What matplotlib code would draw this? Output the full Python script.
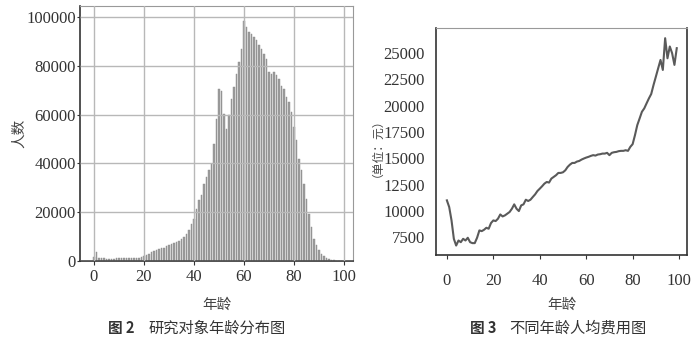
import numpy as np
import matplotlib.pyplot as plt

plt.rcParams['font.family'] = ['Noto Sans CJK SC', 'DejaVu Sans']

# figure 2: number of people per age
ages = np.arange(0, 100)
counts = [
    1500, 3500, 1400, 1200, 1100, 1000, 1000, 1000, 1000, 1100,
    1100, 1100, 1200, 1200, 1200, 1200, 1300, 1300, 1400, 1500,
    2000, 2500, 3000, 3500, 4000, 4500, 5000, 5300, 5500, 6000,
    6500, 7000, 7300, 7800, 8200, 9000, 9800, 11000, 12600, 15000,
    17300, 21400, 24900, 26900, 31700, 34400, 37200, 39900, 48100, 58300,
    70600, 69700, 60400, 54200, 59700, 66500, 71300, 76800, 81600, 87000,
    98400, 95900, 93900, 93200, 91800, 90400, 88400, 87000, 85000, 82900,
    77500, 76800, 77500, 76100, 74700, 71600, 70600, 67200, 65200, 61100,
    54900, 49500, 41900, 37200, 31700, 25500, 19400, 13900, 9200, 6400,
    4400, 3000, 1900, 1200, 800, 500, 300, 200, 100, 50,
]

# figure 3: average cost per age (yuan)
cost = [
    11000, 10360, 9090, 7340, 6700, 7180, 7020, 7340, 7180, 7440,
    7020, 6930, 6930, 7440, 8140, 8070, 8200, 8390, 8300, 8840,
    9090, 9030, 9250, 9660, 9470, 9570, 9730, 9890, 10200, 10620,
    10200, 9980, 10520, 10620, 11060, 10940, 11060, 11320, 11570, 11890,
    12110, 12340, 12590, 12750, 12690, 13070, 13230, 13390, 13610, 13610,
    13670, 13860, 14180, 14400, 14560, 14560, 14690, 14750, 14880, 14980,
    15070, 15140, 15230, 15300, 15260, 15360, 15390, 15450, 15450, 15520,
    15300, 15520, 15580, 15610, 15680, 15710, 15710, 15770, 15710, 16090,
    16350, 17200, 18160, 18790, 19430, 19750, 20230, 20700, 21120, 21980,
    22770, 23570, 24360, 23410, 26430, 24520, 25640, 25000, 23890, 25480,
]

x_ticks = [0, 20, 40, 60, 80, 100]
hist_yticks = [0, 20000, 40000, 60000, 80000, 100000]
cost_yticks = [7500, 10000, 12500, 15000, 17500, 20000, 22500, 25000]

serif = 'Liberation Serif'
tick_size = 12

fig = plt.figure(figsize=(6.99, 3.41), dpi=100)

# ---- left: age histogram ----
ax1 = fig.add_axes([0.1144, 0.2346, 0.3906, 0.7478])
ax1.bar(ages, counts, width=0.72, color='#9c9c9c', edgecolor='#8a8a8a',
        linewidth=0.3, zorder=1)
ax1.set_xlim(-5.6, 103.6)
ax1.set_ylim(0, 104500)
ax1.set_xticks(x_ticks)
ax1.set_yticks(hist_yticks)
ax1.grid(True, color='#b8b8b8', linewidth=1.0, zorder=3)
ax1.set_axisbelow(False)
for lab in ax1.get_xticklabels() + ax1.get_yticklabels():
    lab.set_fontfamily(serif)
    lab.set_fontsize(tick_size)
    lab.set_color('#333333')
ax1.tick_params(axis='x', length=3, width=0.8, color='#333333', pad=3)
ax1.tick_params(axis='y', length=2, width=0.8, color='#333333', pad=1)
ax1.spines['left'].set_color('#333333')
ax1.spines['bottom'].set_color('#333333')
ax1.spines['left'].set_linewidth(1.2)
ax1.spines['bottom'].set_linewidth(1.2)
ax1.spines['top'].set_color('#999999')
ax1.spines['right'].set_color('#999999')
ax1.set_xlabel('年龄', fontsize=10.5, color='#444444', labelpad=9)
ax1.set_ylabel('人数', fontsize=10.5, color='#444444', labelpad=0)

# ---- right: average cost ----
ax2 = fig.add_axes([0.6237, 0.2522, 0.3591, 0.6657])
ax2.plot(ages, cost, color='#5a5a5a', linewidth=1.5)
ax2.set_xlim(-4.7, 103.4)
ax2.set_ylim(5800, 27400)
ax2.set_xticks(x_ticks)
ax2.set_yticks(cost_yticks)
for lab in ax2.get_xticklabels() + ax2.get_yticklabels():
    lab.set_fontfamily(serif)
    lab.set_fontsize(tick_size)
    lab.set_color('#333333')
ax2.tick_params(axis='x', length=3, width=0.8, color='#333333', pad=10)
ax2.tick_params(axis='y', length=0, pad=8)
for side in ['left', 'bottom', 'right']:
    ax2.spines[side].set_color('#333333')
    ax2.spines[side].set_linewidth(1.2)
ax2.spines['top'].set_color('#999999')
ax2.set_xlabel('年龄', fontsize=10.5, color='#444444', labelpad=6)
ax2.set_ylabel('（单位：元）', fontsize=8.5, color='#444444', labelpad=4)

# captions
fig.text(0.155, 0.038, '图 2', fontsize=10.5, fontweight='bold',
         color='#333333', va='center')
fig.text(0.212, 0.038, '研究对象年龄分布图', fontsize=11,
         color='#333333', va='center')
fig.text(0.672, 0.038, '图 3', fontsize=10.5, fontweight='bold',
         color='#333333', va='center')
fig.text(0.728, 0.038, '不同年龄人均费用图', fontsize=11,
         color='#333333', va='center')

fig.savefig('out.png', dpi=100)
